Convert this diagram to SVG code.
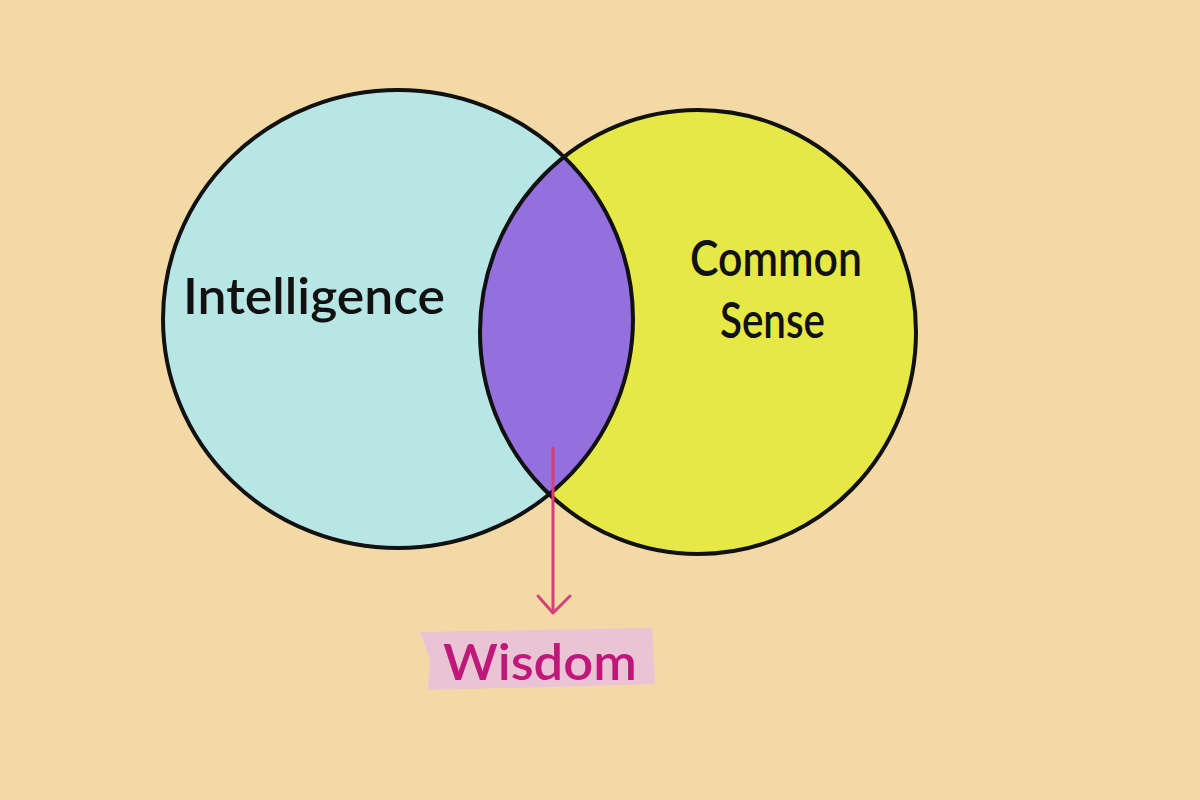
<svg xmlns="http://www.w3.org/2000/svg" width="1200" height="800" viewBox="0 0 1200 800">
<style>
.lbl{font-family:"Lato","Noto Sans","Liberation Sans",sans-serif;font-size:50px;font-weight:600;fill:#111}
.ring{fill:none;stroke:#111;stroke-width:4}
.pink{fill:none;stroke:#d6407a;stroke-width:3;stroke-linecap:round;stroke-linejoin:round}
</style>
<defs>
<clipPath id="leftClip"><ellipse cx="398" cy="319" rx="235" ry="229"/></clipPath>
</defs>
<rect width="1200" height="800" fill="#f2d9a6"/>
<g id="intelligence">
<ellipse cx="398" cy="319" rx="235" ry="229" fill="#b8e6e4"/>
</g>
<g id="common-sense">
<ellipse cx="698" cy="332" rx="218" ry="222" fill="#e6e845"/>
</g>
<g id="wisdom-area">
<ellipse cx="698" cy="332" rx="218" ry="222" fill="#9470de" clip-path="url(#leftClip)"/>
</g>
<ellipse class="ring" cx="398" cy="319" rx="235" ry="229"/>
<ellipse class="ring" cx="698" cy="332" rx="218" ry="222"/>
<text class="lbl" x="183" y="314" textLength="262" lengthAdjust="spacingAndGlyphs">Intelligence</text>
<text class="lbl" x="690" y="276" textLength="172" lengthAdjust="spacingAndGlyphs">Common</text>
<text class="lbl" x="720" y="338" textLength="105" lengthAdjust="spacingAndGlyphs">Sense</text>
<g id="connectors">
<line class="pink" x1="553" y1="448" x2="553" y2="612"/>
<path class="pink" d="M538 596 L553 613 L570 596"/>
</g>
<g id="wisdom">
<path d="M420 632 L652 628 L655 684 L428 690 L430 660 Z" fill="#e8c4d4"/>
<text x="443" y="680" font-family="Lato,'Noto Sans','Liberation Sans',sans-serif" font-size="50" font-weight="600" fill="#c0187a" textLength="194" lengthAdjust="spacingAndGlyphs">Wisdom</text>
</g>
</svg>
